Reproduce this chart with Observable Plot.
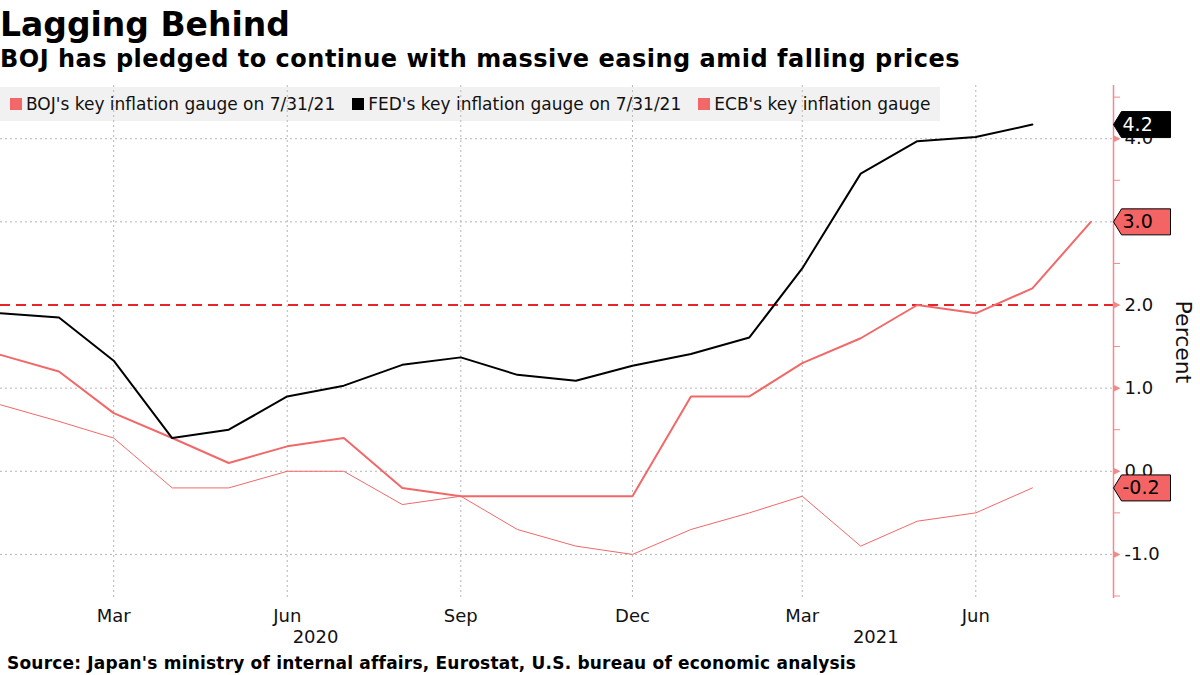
<!DOCTYPE html>
<html>
<head>
<meta charset="utf-8">
<script src="https://cdn.jsdelivr.net/npm/d3@7"></script>
<script src="https://cdn.jsdelivr.net/npm/@observablehq/plot@0.6"></script>
<style>
  html, body { margin: 0; padding: 0; background: #fff; }
  body { width: 1200px; height: 675px; position: relative; overflow: hidden; font-family: "DejaVu Sans", sans-serif; color: #000; }
  .title { position: absolute; left: 0; top: 5px; font-size: 33px; line-height: 40px; font-weight: bold; white-space: nowrap; }
  .subtitle { position: absolute; left: 0; top: 45px; font-size: 24px; line-height: 28px; font-weight: bold; letter-spacing: 0.5px; white-space: nowrap; }
  .source { position: absolute; left: 7px; top: 653px; font-size: 17px; line-height: 20px; font-weight: bold; letter-spacing: 0.2px; white-space: nowrap; }
  #chart { position: absolute; left: 0; top: 80px; }
  .legend { position: absolute; left: 0; top: 87px; width: 940px; height: 34px; background: rgba(200,200,200,0.25); display: flex; align-items: center; font-size: 17px; color: #111; z-index: 2; }
  .legend .item { display: flex; align-items: center; white-space: nowrap; }
  .legend .sw { width: 12px; height: 12px; margin-right: 4px; }
</style>
</head>
<body>
<div class="title">Lagging Behind</div>
<div class="subtitle">BOJ has pledged to continue with massive easing amid falling prices</div>
<div id="chart"></div>
<div class="legend" id="legend"></div>
<div class="source">Source: Japan's ministry of internal affairs, Eurostat, U.S. bureau of economic analysis</div>
<script>
// ---- data ----
const months = ["2020-01-01","2020-02-01","2020-03-01","2020-04-01","2020-05-01","2020-06-01",
  "2020-07-01","2020-08-01","2020-09-01","2020-10-01","2020-11-01","2020-12-01",
  "2021-01-01","2021-02-01","2021-03-01","2021-04-01","2021-05-01","2021-06-01","2021-07-01","2021-08-01"];
const bojValues = [0.8,0.6,0.4,-0.2,-0.2,0.0,0.0,-0.4,-0.3,-0.7,-0.9,-1.0,-0.7,-0.5,-0.3,-0.9,-0.6,-0.5,-0.2];
const fedValues = [1.9,1.85,1.33,0.4,0.5,0.9,1.03,1.28,1.37,1.16,1.09,1.27,1.41,1.61,2.44,3.58,3.97,4.02,4.17];
const ecbValues = [1.4,1.2,0.7,0.4,0.1,0.3,0.4,-0.2,-0.3,-0.3,-0.3,-0.3,0.9,0.9,1.3,1.6,2.0,1.9,2.2,3.0];
const seriesNames = ["BOJ's key inflation gauge on 7/31/21","FED's key inflation gauge on 7/31/21","ECB's key inflation gauge"];
const target = 2.0;
const xTickDates = ["2020-03-01","2020-06-01","2020-09-01","2020-12-01","2021-03-01","2021-06-01"];
const yearLabels = ["2020","2021"];
const yearDates = ["2020-06-16","2021-04-09"];
const yTicks = [-1,0,1,2,3,4];
const yMinorTicks = [-1.5,-0.5,0.5,1.5,2.5,3.5,4.5];
const xDomain = ["2020-01-01","2021-08-13"];
const yDomain = [-1.53, 4.64];

// ---- styles ----
const coral = "#f26869";
const axisCoral = "#f28a8a";
const dashRed = "#e8242b";

const toRows = vals => vals.map((v, i) => ({date: new Date(months[i]), value: v}));
const boj = toRows(bojValues), fed = toRows(fedValues), ecb = toRows(ecbValues);

const tags = [
  {value: fedValues.at(-1), fill: "#000", color: "#fff"},
  {value: ecbValues.at(-1), fill: "#f46464", color: "#000"},
  {value: bojValues.at(-1), fill: "#f46464", color: "#000"}
].map(d => ({...d, label: d.value.toFixed(1)}));

const tagSymbol = {draw(ctx) { ctx.moveTo(0,0); ctx.lineTo(8,-13); ctx.lineTo(57,-13); ctx.lineTo(57,13); ctx.lineTo(8,13); ctx.closePath(); }};
const triSymbol = {draw(ctx) { ctx.moveTo(0,-3.5); ctx.lineTo(7,0); ctx.lineTo(0,3.5); ctx.closePath(); }};

const grid = {stroke: "#b5b5b5", strokeDasharray: "2,3", strokeWidth: 1, strokeOpacity: 1};

const plot = Plot.plot({
  width: 1200,
  height: 575,
  marginTop: 5,
  marginBottom: 57,
  marginLeft: 0,
  marginRight: 87,
  style: {fontFamily: "DejaVu Sans, sans-serif", background: "transparent", overflow: "visible", color: "#111"},
  x: {type: "utc", domain: xDomain.map(d => new Date(d))},
  y: {domain: yDomain},
  marks: [
    Plot.ruleY(yTicks.filter(d => d !== target), grid),
    Plot.ruleX(xTickDates.map(d => new Date(d)), grid),
    Plot.ruleY([target], {stroke: dashRed, strokeWidth: 2, strokeDasharray: "10,6"}),
    Plot.line(boj, {x: "date", y: "value", stroke: coral, strokeWidth: 1}),
    Plot.line(ecb, {x: "date", y: "value", stroke: coral, strokeWidth: 2}),
    Plot.line(fed, {x: "date", y: "value", stroke: "#000", strokeWidth: 2}),
    Plot.ruleX([new Date(xDomain[1])], {stroke: axisCoral, strokeWidth: 1.5}),
    Plot.axisY({anchor: "right", ticks: yMinorTicks, tickSize: 6, stroke: axisCoral, tickFormat: () => "", label: null}),
    Plot.axisY({anchor: "right", ticks: yTicks, tickSize: 0, tickPadding: 11, tickFormat: d => d.toFixed(1), fontSize: 18, fill: "#111", label: null}),
    Plot.dot(yTicks, {y: d => d, frameAnchor: "right", symbol: triSymbol, fill: axisCoral, stroke: null, r: 3}),
    Plot.text(["Percent"], {frameAnchor: "right", textAnchor: "middle", dx: 70, rotate: 90, fontSize: 22, fill: "#111"}),
    Plot.axisX({ticks: xTickDates.map(d => new Date(d)), tickFormat: d3.utcFormat("%b"), tickSize: 0, tickPadding: 11, fontSize: 18, fill: "#111", label: null}),
    Plot.text(yearLabels, {x: (d, i) => new Date(yearDates[i]), text: d => d, frameAnchor: "bottom", dy: 44, fontSize: 18, fill: "#111"}),
    Plot.dot(tags, {y: "value", frameAnchor: "right", symbol: tagSymbol, fill: "fill", stroke: "#000", strokeWidth: 1, r: 5}),
    Plot.text(tags, {y: "value", text: "label", frameAnchor: "right", textAnchor: "start", dx: 9, fontSize: 19, fill: "color"})
  ]
});
document.getElementById("chart").appendChild(plot);

// legend
const legendColors = [coral, "#000", coral];
const legend = document.getElementById("legend");
seriesNames.forEach((name, i) => {
  const item = document.createElement("div");
  item.className = "item";
  item.style.marginLeft = i === 0 ? "10px" : "17px";
  const sw = document.createElement("div");
  sw.className = "sw";
  sw.style.background = legendColors[i];
  const t = document.createElement("span");
  t.textContent = name;
  item.appendChild(sw); item.appendChild(t);
  legend.appendChild(item);
});
</script>
</body>
</html>
